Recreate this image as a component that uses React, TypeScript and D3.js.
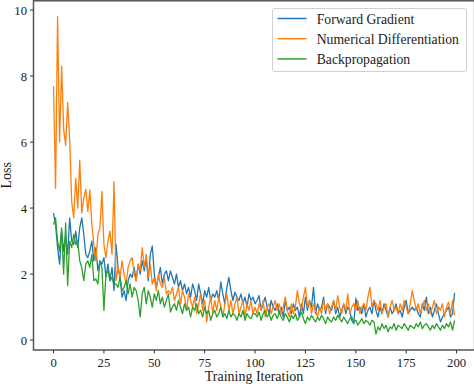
import React from "react";
import * as d3 from "d3";

const forwardGradient = [
  3.85, 3.5, 2.8, 2.3, 3.3, 2.7, 3.2, 2.6, 3.7, 3.0,
  2.9, 3.3, 2.8, 3.4, 3.7, 3.2, 2.6, 2.5, 2.7, 3.0,
  2.4, 2.8, 2.1, 2.4, 2.3, 2.5, 1.9, 2.3, 1.8, 2.2,
  1.5, 2.9, 2.2, 1.9, 1.3, 1.5, 1.2, 1.8, 2.0, 1.9,
  2.2, 1.8, 2.3, 2.0, 2.4, 2.1, 2.5, 1.8, 2.6, 2.85,
  2.0, 1.6, 1.9, 2.2, 1.7, 2.0, 2.1, 1.8, 2.1, 1.9,
  1.7, 2.0, 1.6, 1.8, 1.5, 1.7, 1.4, 1.6, 1.3, 1.7,
  1.5, 1.2, 1.7, 1.4, 1.1, 1.5, 1.3, 1.6, 1.2, 1.4,
  1.3, 1.5, 1.2, 1.76, 1.4, 1.1, 1.6, 1.9, 1.5, 1.2,
  1.45, 1.3, 1.2, 1.4, 1.1, 1.3, 1.0, 1.4, 1.2, 1.3,
  1.1, 1.2, 1.35, 0.9, 1.1, 1.3, 1.0, 0.8, 1.2, 1.0,
  0.9, 1.1, 0.8, 1.0, 0.7, 1.2, 0.9, 1.0, 0.8, 1.1,
  0.9, 1.0, 0.7, 1.1, 0.8, 1.3, 0.9, 1.2, 1.0, 1.6,
  0.8, 1.1, 0.9, 1.0, 1.3, 0.8, 1.1, 1.0, 0.9, 1.2,
  0.8, 1.0, 0.7, 0.9, 1.1, 0.8, 1.0, 0.9, 0.6, 0.5,
  1.27, 0.9, 1.0, 0.8, 1.1, 0.7, 0.9, 1.0, 0.8, 1.2,
  0.9, 0.7, 1.0, 0.8, 1.1, 0.9, 0.7, 1.0, 0.8, 0.9,
  1.1, 0.8, 0.9, 0.7, 1.0, 1.2, 0.8, 0.9, 1.0, 0.9,
  1.0, 0.8, 0.7, 1.1, 0.9, 1.3, 0.8, 1.0, 0.7, 0.9,
  1.1, 0.8, 0.55, 0.7, 0.8, 0.9, 1.0, 0.7, 0.8, 1.43,
];

const numericalDifferentiation = [
  7.7, 4.6, 9.8, 6.0, 8.3, 6.4, 5.9, 7.2, 6.1, 4.2,
  3.7, 4.9, 4.0, 5.45, 3.85, 4.3, 4.57, 3.9, 4.55, 3.5,
  2.9, 2.4, 3.2, 3.4, 4.5, 2.9, 2.5, 3.0, 3.3, 2.6,
  4.8, 1.8, 2.2, 1.9, 2.4, 2.0, 1.7, 2.2, 2.4, 2.5,
  2.0, 1.8, 2.3, 2.1, 2.8, 2.2, 2.6, 1.9, 2.3, 1.7,
  1.9, 1.5, 2.0, 1.7, 1.6, 1.9, 1.4, 1.5, 1.4, 1.6,
  1.2, 1.4, 1.6, 1.1, 1.5, 1.3, 0.9, 1.4, 1.2, 1.0,
  1.3, 0.8, 1.1, 1.4, 0.9, 1.2, 0.55, 1.0, 1.3, 0.8,
  1.2, 0.9, 1.3, 1.0, 0.7, 1.1, 1.4, 0.9, 1.2, 0.8,
  1.1, 1.3, 0.8, 1.0, 1.2, 0.7, 1.1, 0.9, 1.2, 0.8,
  1.0, 0.8, 1.1, 0.9, 1.2, 0.7, 1.0, 1.1, 0.8, 1.0,
  1.2, 0.9, 1.1, 0.8, 1.0, 1.3, 0.9, 0.7, 1.1, 0.8,
  1.0, 1.5, 1.1, 0.9, 1.3, 1.6, 1.0, 1.2, 0.8, 1.1,
  0.9, 0.7, 1.0, 0.8, 1.2, 0.9, 1.1, 0.8, 1.0, 1.2,
  0.9, 1.35, 1.0, 0.8, 1.1, 0.9, 1.4, 0.8, 1.0, 1.1,
  0.9, 1.2, 0.8, 1.0, 1.1, 0.9, 1.3, 1.6, 1.0, 1.2,
  1.1, 0.9, 1.2, 0.8, 1.0, 1.1, 0.7, 1.0, 1.2, 0.9,
  1.0, 0.8, 1.1, 0.9, 1.2, 1.0, 0.8, 1.1, 1.5, 1.2,
  0.9, 1.1, 0.8, 1.0, 1.2, 0.9, 1.1, 0.8, 1.0, 1.2,
  0.8, 1.0, 0.9, 1.1, 0.7, 1.0, 1.15, 0.8, 1.2, 0.75,
];

const backpropagation = [
  3.5, 3.7, 3.0, 2.7, 3.4, 2.0, 3.55, 1.65, 3.0, 2.8,
  3.2, 2.9, 3.0, 2.4, 2.2, 1.8, 2.3, 2.4, 2.2, 2.6,
  1.8, 1.85, 1.7, 2.4, 2.2, 0.9, 2.0, 2.1, 1.8, 1.9,
  1.7, 1.7, 1.6, 1.9, 1.5, 1.6, 1.8, 1.4, 1.7, 1.3,
  1.6, 1.5, 1.2, 0.7, 1.4, 1.6, 1.1, 1.5, 1.3, 1.0,
  1.4, 1.2, 1.5, 1.1, 1.3, 1.0, 1.2, 1.4, 0.85, 1.0,
  1.1, 0.9, 1.2, 1.0, 0.8, 1.1, 0.9, 1.0, 0.7, 1.0,
  0.9, 1.1, 0.8, 0.9, 0.7, 1.0, 0.8, 0.9, 0.6, 0.8,
  0.9, 0.7, 0.8, 1.0, 0.7, 0.8, 0.65, 0.9, 0.7, 0.8,
  0.75, 0.6, 0.8, 0.7, 0.9, 0.6, 0.8, 0.7, 0.65, 0.8,
  0.8, 0.7, 0.85, 0.6, 0.8, 0.9, 0.7, 0.8, 0.6, 0.75,
  0.8, 0.65, 0.85, 0.7, 0.6, 0.8, 0.7, 0.55, 0.75, 0.65,
  0.8, 0.6, 0.7, 0.85, 0.65, 0.5, 0.7, 0.6, 0.75, 0.65,
  0.55, 0.7, 0.6, 0.75, 0.65, 0.5, 0.7, 0.6, 0.55, 0.7,
  0.6, 0.75, 0.65, 0.55, 0.7, 0.6, 0.5, 0.65, 0.7, 0.55,
  0.6, 0.45, 0.55, 0.65, 0.5, 0.6, 0.55, 0.45, 0.6, 0.55,
  0.18, 0.4, 0.3, 0.5, 0.35, 0.45, 0.25, 0.4, 0.35, 0.5,
  0.3, 0.45, 0.4, 0.35, 0.5, 0.4, 0.3, 0.45, 0.4, 0.35,
  0.5, 0.4, 0.55, 0.35, 0.45, 0.5, 0.4, 0.3, 0.45, 0.35,
  0.5, 0.4, 0.3, 0.45, 0.35, 0.5, 0.4, 0.55, 0.3, 0.6,
];

const xTicks = [0, 25, 50, 75, 100, 125, 150, 175, 200];
const yTicks = [0, 2, 4, 6, 8, 10];
const seriesNames = ["Forward Gradient", "Numerical Differentiation", "Backpropagation"];
const seriesColors = ["#1f77b4", "#ff7f0e", "#2ca02c"];

const W = 474;
const H = 384;
const FONT = "'Liberation Serif', 'Times New Roman', serif";

export default function App() {
  const x = d3.scaleLinear().domain([-9.95, 208.95]).range([33.5, 474.6]);
  const y = d3.scaleLinear().domain([-0.3, 10.28]).range([350, 0.8]);
  const allSeries = [forwardGradient, numericalDifferentiation, backpropagation];
  const line = d3
    .line<number>()
    .x((_, i) => x(i))
    .y((d) => y(d));

  const left = x.range()[0];
  const right = x.range()[1];
  const top = y.range()[1];
  const bottom = y.range()[0];

  const legX = 272.5;
  const legY = 8.5;
  const legW = 194;
  const legH = 63;
  const rowGap = 20.2;

  return (
    <svg
      width={W}
      height={H}
      style={{ position: "absolute", left: 0, top: 0, background: "#fff" }}
      fontFamily={FONT}
    >
      <rect x={0} y={0} width={W} height={H} fill="#fff" />
      <defs>
        <clipPath id="plotClip">
          <rect x={left} y={top} width={right - left} height={bottom - top} />
        </clipPath>
      </defs>
      <g clipPath="url(#plotClip)">
        {allSeries.map((s, k) => (
          <path
            key={k}
            d={line(s) || ""}
            fill="none"
            stroke={seriesColors[k]}
            strokeWidth={1.3}
            strokeLinejoin="round"
          />
        ))}
      </g>
      <rect
        x={left}
        y={top}
        width={right - left}
        height={bottom - top}
        fill="none"
        stroke="#555"
        strokeWidth={1.5}
      />
      {xTicks.map((t) => (
        <g key={"x" + t}>
          <line x1={x(t)} x2={x(t)} y1={bottom} y2={bottom + 3.5} stroke="#333" strokeWidth={1} />
          <text x={x(t)} y={367} textAnchor="middle" fontSize={12.7} fill="#222">
            {t}
          </text>
        </g>
      ))}
      {yTicks.map((t) => (
        <g key={"y" + t}>
          <line x1={left - 3.5} x2={left} y1={y(t)} y2={y(t)} stroke="#333" strokeWidth={1} />
          <text x={27} y={y(t) + 4.5} textAnchor="end" fontSize={12.7} fill="#222">
            {t}
          </text>
        </g>
      ))}
      <text x={(left + right) / 2} y={381} textAnchor="middle" fontSize={14} fill="#222">
        Training Iteration
      </text>
      <text
        transform={`translate(10.5, ${(top + bottom) / 2}) rotate(-90)`}
        textAnchor="middle"
        fontSize={14}
        fill="#222"
      >
        Loss
      </text>
      <rect
        x={legX}
        y={legY}
        width={legW}
        height={legH}
        rx={2.5}
        fill="#fff"
        fillOpacity={0.8}
        stroke="#d0d0d0"
        strokeWidth={1}
      />
      {seriesNames.map((name, k) => {
        const cy = legY + 10 + k * rowGap;
        return (
          <g key={name}>
            <line x1={277.5} x2={306.5} y1={cy} y2={cy} stroke={seriesColors[k]} strokeWidth={1.5} />
            <text x={316.7} y={cy + 5} fontSize={13.7} fill="#222">
              {name}
            </text>
          </g>
        );
      })}
    </svg>
  );
}
